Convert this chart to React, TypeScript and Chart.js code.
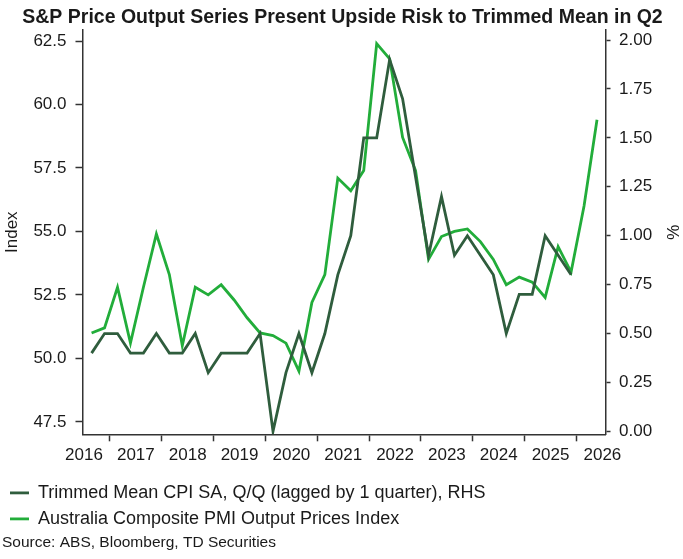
import React, { useEffect, useRef } from "react";
import { Chart, registerables } from "chart.js";

Chart.register(...registerables);

// Observation months (quarterly samples)
const months = [
  "2016-02", "2016-05", "2016-08", "2016-11",
  "2017-02", "2017-05", "2017-08", "2017-11",
  "2018-02", "2018-05", "2018-08", "2018-11",
  "2019-02", "2019-05", "2019-08", "2019-11",
  "2020-02", "2020-05", "2020-08", "2020-11",
  "2021-02", "2021-05", "2021-08", "2021-11",
  "2022-02", "2022-05", "2022-08", "2022-11",
  "2023-02", "2023-05", "2023-08", "2023-11",
  "2024-02", "2024-05", "2024-08", "2024-11",
  "2025-02", "2025-05", "2025-08", "2025-11",
];

// Australia Composite PMI Output Prices Index (LHS)
const pmiOutputPrices = [
  51.0, 51.2, 52.8, 50.6,
  52.8, 54.9, 53.3, 50.5,
  52.8, 52.5, 52.9, 52.3,
  51.6, 51.0, 50.9, 50.6,
  49.5, 52.2, 53.3, 57.1,
  56.6, 57.4, 62.4, 61.8,
  58.7, 57.4, 53.9, 54.8,
  55.0, 55.1, 54.6, 53.9,
  52.9, 53.2, 53.0, 52.4,
  54.4, 53.4, 56.0, 59.4,
];

// Trimmed Mean CPI SA, Q/Q (lagged by 1 quarter), % (RHS)
const trimmedMeanQoQ = [
  0.4, 0.5, 0.5, 0.4,
  0.4, 0.5, 0.4, 0.4,
  0.5, 0.3, 0.4, 0.4,
  0.4, 0.5, 0.0, 0.3,
  0.5, 0.3, 0.5, 0.8,
  1.0, 1.5, 1.5, 1.9,
  1.7, 1.3, 0.9, 1.2,
  0.9, 1.0, 0.9, 0.8,
  0.5, 0.7, 0.7, 1.0,
  0.9, 0.8,
];

const yearLabels = [2016, 2017, 2018, 2019, 2020, 2021, 2022, 2023, 2024, 2025, 2026];
const leftTicks = [47.5, 50.0, 52.5, 55.0, 57.5, 60.0, 62.5];
const rightTicks = [0, 0.25, 0.5, 0.75, 1.0, 1.25, 1.5, 1.75, 2.0];

const TITLE = "S&P Price Output Series Present Upside Risk to Trimmed Mean in Q2";
const SERIES_CPI = "Trimmed Mean CPI SA, Q/Q (lagged by 1 quarter), RHS";
const SERIES_PMI = "Australia Composite PMI Output Prices Index";
const SOURCE = "Source: ABS, Bloomberg, TD Securities";

const FONT = "'Liberation Sans', Arial, Helvetica, sans-serif";
const TEXT = "#1a1a1a";
const AXIS = "#333333";
const DARK = "#2f5d3d";
const LIGHT = "#22ad3a";

function monthToYear(m: string): number {
  const [y, mo] = m.split("-").map(Number);
  return y + (mo - 0.25) / 12;
}

export default function App() {
  const ref = useRef<HTMLCanvasElement | null>(null);

  useEffect(() => {
    if (!ref.current) return;
    const xs = months.map(monthToYear);
    const halfYears = yearLabels.slice(0, -1).map((y) => y + 0.5);
    const xTickValues = [...yearLabels, ...halfYears].sort((a, b) => a - b);

    const chart = new Chart(ref.current, {
      type: "line",
      data: {
        datasets: [
          {
            label: SERIES_CPI,
            data: trimmedMeanQoQ.map((v, i) => ({ x: xs[i], y: v })),
            yAxisID: "y1",
            borderColor: DARK,
            backgroundColor: DARK,
            borderWidth: 2.8,
            pointRadius: 0,
            tension: 0,
          },
          {
            label: SERIES_PMI,
            data: pmiOutputPrices.map((v, i) => ({ x: xs[i], y: v })),
            yAxisID: "y",
            borderColor: LIGHT,
            backgroundColor: LIGHT,
            borderWidth: 2.8,
            pointRadius: 0,
            tension: 0,
          },
        ],
      },
      options: {
        responsive: false,
        animation: false,
        layout: { padding: { left: 2, right: 0, top: 0, bottom: 4 } },
        plugins: {
          title: {
            display: true,
            text: TITLE,
            color: TEXT,
            font: { family: FONT, size: 19.5, weight: "bold" },
            padding: { top: 5.5, bottom: 1.2 },
          },
          subtitle: {
            display: true,
            text: SOURCE,
            position: "bottom",
            align: "start",
            color: TEXT,
            font: { family: FONT, size: 15.5 },
            padding: { top: -4, bottom: 2.5 },
          },
          legend: {
            display: true,
            position: "bottom",
            align: "start",
            labels: {
              usePointStyle: true,
              pointStyle: "line",
              pointStyleWidth: 19,
              color: TEXT,
              font: { family: FONT, size: 18 },
              padding: 8,
              sort: (a: any, b: any) => a.datasetIndex - b.datasetIndex,
            },
          },
          tooltip: { enabled: false },
        },
        scales: {
          x: {
            type: "linear",
            min: 2015.98,
            max: 2026.06,
            afterBuildTicks: (axis: any) => {
              axis.ticks = xTickValues.map((v) => ({ value: v }));
            },
            ticks: {
              autoSkip: false,
              maxRotation: 0,
              minRotation: 0,
              padding: 3.5,
              color: TEXT,
              font: { family: FONT, size: 17 },
              callback: (v: any) => (Number.isInteger(v) ? String(v) : ""),
            },
            grid: {
              drawOnChartArea: false,
              tickLength: 7,
              tickWidth: 1.5,
              tickColor: (ctx: any) =>
                ctx.tick && Number.isInteger(ctx.tick.value) ? "rgba(0,0,0,0)" : AXIS,
            },
            border: { color: AXIS, width: 1.5 },
            title: {
              display: true,
              text: "",
              font: { family: FONT, size: 1 },
              padding: { top: 6, bottom: 0 },
            },
          },
          y: {
            type: "linear",
            position: "left",
            min: 47.01,
            max: 62.93,
            afterBuildTicks: (axis: any) => {
              axis.ticks = leftTicks.map((v) => ({ value: v }));
            },
            ticks: {
              padding: 9,
              color: TEXT,
              font: { family: FONT, size: 17 },
              callback: (v: any) => Number(v).toFixed(1),
            },
            grid: { drawOnChartArea: false, tickLength: 7.5, tickWidth: 1.5, tickColor: AXIS },
            border: { color: AXIS, width: 1.5 },
            title: {
              display: true,
              text: "Index",
              color: TEXT,
              font: { family: FONT, size: 17 },
              padding: { top: 0, bottom: 2 },
            },
          },
          y1: {
            type: "linear",
            position: "right",
            min: -0.015,
            max: 2.051,
            afterBuildTicks: (axis: any) => {
              axis.ticks = rightTicks.map((v) => ({ value: v }));
            },
            ticks: {
              padding: 8.5,
              color: TEXT,
              font: { family: FONT, size: 17 },
              callback: (v: any) => Number(v).toFixed(2),
            },
            grid: { drawOnChartArea: false, tickLength: 5, tickWidth: 1.5, tickColor: AXIS },
            border: { color: AXIS, width: 1.5 },
            title: {
              display: true,
              text: "%",
              color: TEXT,
              font: { family: FONT, size: 17 },
              padding: { top: 1, bottom: 1 },
            },
          },
        },
      },
    });
    return () => chart.destroy();
  }, []);

  return (
    <div
      style={{
        position: "absolute",
        left: 0,
        top: 0,
        width: 683,
        height: 559,
        background: "#ffffff",
      }}
    >
      <canvas ref={ref} width={683} height={559} style={{ width: 683, height: 559 }} />
    </div>
  );
}
